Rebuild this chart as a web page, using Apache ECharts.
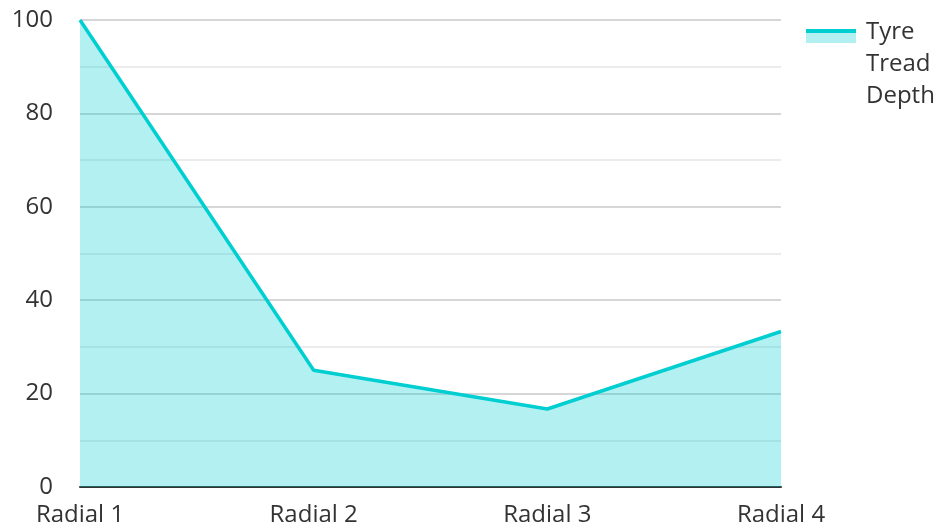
<!DOCTYPE html>
<html>
<head>
<meta charset="utf-8">
<script src="https://cdn.jsdelivr.net/npm/echarts@6/dist/echarts.min.js"></script>
<style>
  html, body { margin: 0; padding: 0; background: #fff; }
  #chart { width: 938px; height: 526px; }
</style>
</head>
<body>
<div id="chart"></div>
<script>
var categories = ['Radial 1', 'Radial 2', 'Radial 3', 'Radial 4']
var treadDepth = [100, 25, 16.7, 33.3]
var seriesName = 'Tyre Tread Depth'

// legend icon: line on top of a filled area, drawn in the top part of a tall box
// so it sits next to the first line of the wrapped legend text
var iconSvg = '<svg xmlns="http://www.w3.org/2000/svg" width="55" height="96" viewBox="0 0 55 96">'
    + '<rect x="0" y="17" width="50" height="10" fill="#b2f0f1"/>'
    + '<rect x="0" y="13" width="50" height="4" fill="#00CED1"/>'
    + '</svg>'
var legendIcon = 'image://data:image/svg+xml;charset=utf-8,' + encodeURIComponent(iconSvg)

var chart = echarts.init(document.getElementById('chart'))

var option = {
    animation: false,
    textStyle: { fontFamily: 'Open Sans' },
    grid: {
        left: 80,
        right: 157,
        top: 20,
        bottom: 39,
        outerBoundsMode: 'none'
    },
    legend: {
        orient: 'vertical',
        left: 801,
        top: 11,
        itemWidth: 55,
        itemHeight: 96,
        data: [{ name: seriesName, icon: legendIcon }],
        textStyle: {
            color: '#333',
            fontSize: 24,
            width: 72,
            overflow: 'break',
            lineHeight: 32
        }
    },
    xAxis: {
        type: 'category',
        boundaryGap: false,
        data: categories,
        axisTick: { show: false },
        axisLine: { lineStyle: { color: '#333', width: 2 } },
        axisLabel: { color: '#333', fontSize: 24, margin: 16 }
    },
    yAxis: {
        type: 'value',
        min: 0,
        max: 100,
        interval: 20,
        axisLine: { show: false },
        axisTick: { show: false },
        axisLabel: { color: '#333', fontSize: 24, margin: 27 },
        splitLine: { lineStyle: { color: '#c8c8c8', width: 1.5 } },
        minorTick: { show: false, splitNumber: 2 },
        minorSplitLine: { show: true, lineStyle: { color: '#e6e6e6', width: 1.5 } }
    },
    series: [{
        name: seriesName,
        type: 'line',
        data: treadDepth,
        symbol: 'none',
        lineStyle: { color: '#00CED1', width: 3.5 },
        itemStyle: { color: '#00CED1' },
        areaStyle: { color: '#00CED1', opacity: 0.3 }
    }]
}

chart.setOption(option)
</script>
</body>
</html>
